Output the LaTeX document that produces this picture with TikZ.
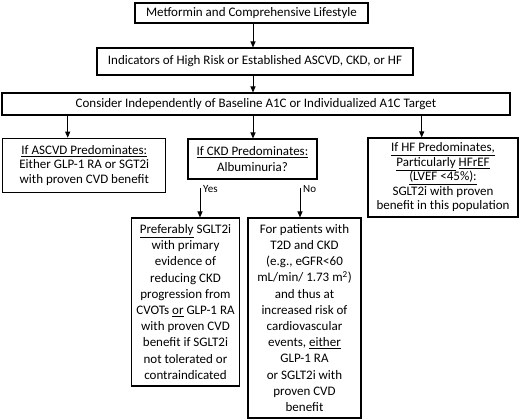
\documentclass[tikz,border=0pt]{standalone}
\usepackage{fontspec}
\setmainfont{Carlito}
\usetikzlibrary{arrows.meta}
\begin{document}
\begin{tikzpicture}[x=1pt,y=-1pt,
  box/.style={draw=black, line width=1.1pt, inner sep=0pt, align=center, font=\fontsize{13}{16.2}\selectfont},
  tight/.style={font=\fontsize{13}{14.5}\selectfont},
  arr/.style={-{Triangle[length=6pt,width=5pt]}, line width=1pt},
  lbl/.style={font=\fontsize{11}{13}\selectfont, inner sep=0pt, anchor=west}]
\useasboundingbox (0,0) rectangle (520,420);
\node[box, minimum width=233pt, minimum height=20pt] (b1) at (251.5,13) {Metformin and Comprehensive Lifestyle};
\node[box, minimum width=316pt, minimum height=27pt] (b2) at (255,61.5) {Indicators of High Risk or Established ASCVD, CKD, or HF};
\node[box, minimum width=508pt, minimum height=22pt] (b3) at (256,104) {Consider Independently of Baseline A1C or Individualized A1C Target};
\node[box, tight, minimum width=163pt, minimum height=54.5pt] (b4) at (84.3,165.5) {\underline{If ASCVD Predominates:}\\Either GLP-1 RA or SGT2i\\with proven CVD benefit};
\node[box, minimum width=129pt, minimum height=40pt] (b5) at (252.5,159) {\underline{If CKD Predominates:}\\Albuminuria?};
\node[box, tight, minimum width=150pt, minimum height=79pt] (b6) at (443,177.5) {\underline{If HF Predominates,}\\\underline{Particularly} \underline{HFrEF}\\\underline{(LVEF <45\%):}\\SGLT2i with proven\\benefit in this population};
\node[box, minimum width=108pt, minimum height=168pt] (b7) at (185.5,302) {\underline{Preferably} SGLT2i\\with primary\\evidence of\\reducing CKD\\progression from\\CVOTs \underline{or} GLP-1 RA\\with proven CVD\\benefit if SGLT2i\\not tolerated or\\contraindicated};
\node[box, minimum width=113pt, minimum height=200pt] (b8) at (304.5,318) {For patients with\\T2D and CKD\\(e.g., eGFR<60\\mL/min/ 1.73 m\textsuperscript{2})\\and thus at\\increased risk of\\cardiovascular\\events, \underline{either}\\GLP-1 RA\\or SGLT2i with\\proven CVD\\benefit};
\coordinate (yes) at (200,188);
\coordinate (no) at (300,188);
\draw[arr] (b1.south -| 253,0) -- (b2.north -| 253,0);
\draw[arr] (b2.south -| 253,0) -- (b3.north -| 253,0);
\draw[arr] (b3.south -| 67.7,0) -- (b4.north -| 67.7,0);
\draw[arr] (b3.south -| 253,0) -- (b5.north -| 253,0);
\draw[arr] (b3.south -| 421.7,0) -- (b6.north -| 421.7,0);
\draw[arr] (yes) -- (b7.north -| yes);
\draw[arr] (no) -- (b8.north -| no);
\node[lbl] (ly) at (203,189) {Yes};
\node[lbl] (ln) at (303,189) {No};
\end{tikzpicture}
\end{document}
